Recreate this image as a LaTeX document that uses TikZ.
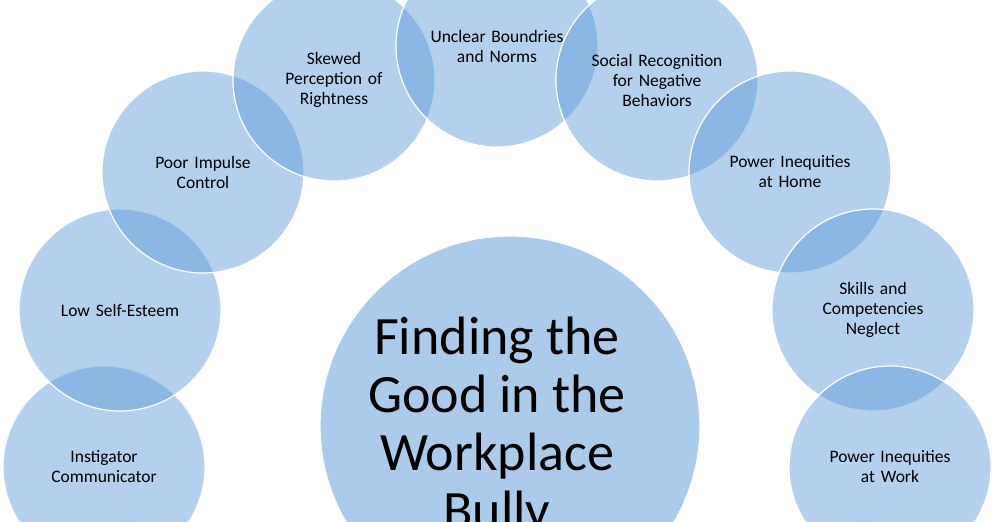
\documentclass[tikz,border=0pt]{standalone}
\usepackage{fontspec}
\setmainfont{Carlito}
\definecolor{cb}{RGB}{90,150,215}
\definecolor{cc}{RGB}{172,202,234}
\begin{document}
\begin{tikzpicture}[x=1pt,y=-1pt,
  bub/.style={circle,minimum size=202pt,inner sep=0pt,fill=cb,fill opacity=0.45,text opacity=1,draw=white,line width=1.2pt,align=center,font=\fontsize{17.5}{20}\selectfont,text width=170pt},
  ctr/.style={circle,minimum size=380pt,inner sep=0pt,fill=cc,draw=white,line width=1.2pt},
  ctxt/.style={align=center,font=\fontsize{54}{58}\selectfont,inner sep=0pt}]
\useasboundingbox (0,0) rectangle (994,522);
\clip (0,0) rectangle (994,522);
\node[ctr] (c) at (510,426) {};
\node[ctxt] (ct) at (497,427) {Finding the\\Good in the\\Workplace\\Bully};
\node[bub] (b0) at (130,622) {};
\node[bub] (b11) at (862,622) {};
\node[bub] (b1) at (104,467) {Instigator\\Communicator};
\node[bub] (b2) at (120,310) {Low Self-Esteem};
\node[bub] (b3) at (203,172) {Poor Impulse\\Control};
\node[bub] (b4) at (334,80) {Skewed\\Perception of\\Rightness};
\node[bub] (b5) at (497,46) {Unclear Boundries\\and Norms};
\node[bub] (b6) at (657,80) {Social Recognition\\for Negative\\Behaviors};
\node[bub] (b7) at (790,172) {Power Inequities\\at Home};
\node[bub] (b8) at (873,310) {Skills and\\Competencies\\Neglect};
\node[bub] (b9) at (890,467) {Power Inequities\\at Work};
\end{tikzpicture}
\end{document}
